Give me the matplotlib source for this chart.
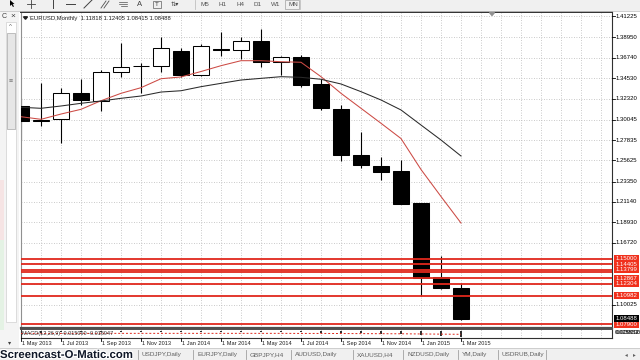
import matplotlib
matplotlib.use("Agg")
import matplotlib.pyplot as plt
import numpy as np
from matplotlib.patches import Rectangle, Polygon
from matplotlib.transforms import blended_transform_factory
import matplotlib.patheffects as pe

plt.rcParams['font.family'] = ['Liberation Sans', 'DejaVu Sans']

# ---------------- data (monthly EURUSD, May 2013 .. Mar 2015) ----------------
months = ["May 2013", "Jun 2013", "Jul 2013", "Aug 2013", "Sep 2013", "Oct 2013",
          "Nov 2013", "Dec 2013", "Jan 2014", "Feb 2014", "Mar 2014", "Apr 2014",
          "May 2014", "Jun 2014", "Jul 2014", "Aug 2014", "Sep 2014", "Oct 2014",
          "Nov 2014", "Dec 2014", "Jan 2015", "Feb 2015", "Mar 2015"]
opens  = [1.3152, 1.2992, 1.3006, 1.3292, 1.3205, 1.3520, 1.3580, 1.3584, 1.3752, 1.3486,
          1.3765, 1.3760, 1.3860, 1.3625, 1.3680, 1.3387, 1.3116, 1.2622, 1.2503, 1.2452,
          1.2099, 1.1306, 1.11818]
highs  = [1.3240, 1.3404, 1.3346, 1.3444, 1.3541, 1.3830, 1.3620, 1.3893, 1.3776, 1.3822,
          1.3956, 1.3901, 1.3982, 1.3693, 1.3703, 1.3441, 1.3163, 1.2874, 1.2597, 1.2568,
          1.2105, 1.1530, 1.12405]
lows   = [1.2784, 1.2940, 1.2750, 1.3163, 1.3093, 1.3463, 1.3290, 1.3516, 1.3462, 1.3476,
          1.3696, 1.3660, 1.3577, 1.3487, 1.3354, 1.3109, 1.2560, 1.2478, 1.2352, 1.2088,
          1.1097, 1.1170, 1.08415]
closes = [1.2988, 1.2996, 1.3296, 1.3218, 1.3516, 1.3575, 1.3586, 1.3775, 1.3486, 1.3801,
          1.3760, 1.3860, 1.3625, 1.3680, 1.3380, 1.3127, 1.2622, 1.2514, 1.2435, 1.2092,
          1.1288, 1.1180, 1.08488]
ma_fast = [1.3036, 1.3008, 1.3065, 1.3116, 1.3209, 1.3289, 1.3350, 1.3447, 1.3466, 1.3525,
           1.3588, 1.3642, 1.3642, 1.3631, 1.3625, 1.3469, 1.3289, 1.3127, 1.2965, 1.2800,
           1.2465, 1.2173, 1.1886]
ma_slow = [1.3138, 1.3127, 1.3152, 1.3181, 1.3206, 1.3235, 1.3260, 1.3303, 1.3317, 1.3361,
           1.3397, 1.3433, 1.3451, 1.3469, 1.3462, 1.3441, 1.3390, 1.3307, 1.3217, 1.3109,
           1.2946, 1.2784, 1.2611]
macd_main = [-0.018, -0.018, -0.017, -0.016, -0.015, -0.014, -0.014, -0.013, -0.013, -0.013,
             -0.013, -0.013, -0.014, -0.015, -0.016, -0.018, -0.022, -0.026, -0.030, -0.036,
             -0.050, -0.058, -0.066]
macd_signal = [-0.028, -0.028, -0.028, -0.028, -0.027, -0.027, -0.027, -0.027, -0.027, -0.027,
               -0.027, -0.027, -0.027, -0.027, -0.028, -0.028, -0.029, -0.030, -0.031, -0.032,
               -0.034, -0.036, -0.038]
level_lines  = [1.15000, 1.14405, 1.13799, 1.13560, 1.12867, 1.12304, 1.10982, 1.07900]
level_labels = ["1.15000", "1.14405", "1.13799", "", "1.12867", "1.12304", "1.10982", "1.07900"]
ytick_vals   = [1.41225, 1.38950, 1.36740, 1.34530, 1.32320, 1.30045, 1.27835, 1.25625,
                1.23350, 1.21140, 1.18930, 1.16720, 1.10025]
extra_grid   = [1.14510, 1.12235]
date_labels  = ["1 May 2013", "1 Jul 2013", "1 Sep 2013", "1 Nov 2013", "1 Jan 2014",
                "1 Mar 2014", "1 May 2014", "1 Jul 2014", "1 Sep 2014", "1 Nov 2014",
                "1 Jan 2015", "1 Mar 2015"]
date_idx = list(range(0, 23, 2))
header = "EURUSD,Monthly  1.11818 1.12405 1.08415 1.08488"
macd_label = "MACD(12,26,9) -0.015090 -0.016947"
last_price = "1.08488"
tabs = ["USDJPY,Daily", "EURJPY,Daily", "GBPJPY,H4", "AUDUSD,Daily", "XAUUSD,H4",
        "NZDUSD,Daily", "YM,Daily", "USDRUB,Daily"]
timeframes = ["M5", "H1", "H4", "D1", "W1", "MN"]

# ---------------- figure ----------------
W, H = 640, 360
fig = plt.figure(figsize=(6.4, 3.6), dpi=100, facecolor="white")

L, R = 20.7, 612.0
TOP, BOT = 12.0, 328.0
ax = fig.add_axes([L / W, 1 - BOT / H, (R - L) / W, (BOT - TOP) / H])
ax2 = fig.add_axes([L / W, 1 - 337.7 / H, (R - L) / W, (337.7 - 329.0) / H])
ov = fig.add_axes([0, 0, 1, 1])
ov.set_xlim(0, W); ov.set_ylim(H, 0); ov.axis("off"); ov.patch.set_visible(False)

x = np.arange(len(opens))
x0 = -0.015
x1 = x0 + (R - L) / 20.0
ax.set_xlim(x0, x1)
ax.set_ylim(1.07506, 1.41687)
ax2.set_xlim(x0, x1)
ax2.set_ylim(-0.077, 0.023)
for a in (ax, ax2):
    a.set_xticks([]); a.set_yticks([])
    a.set_facecolor("white")

gcol = "#b8b8b8"
for k in range(0, 30):
    ax.axvline(k, color=gcol, lw=0.6, ls=(0, (1, 2)), zorder=1)
    ax2.axvline(k, color=gcol, lw=0.6, ls=(0, (1, 2)), zorder=1)
for v in ytick_vals + extra_grid:
    ax.axhline(v, color=gcol, lw=0.6, ls=(0, (1, 2)), zorder=1)

# candles
bw = 0.76
for i in x:
    o, h, l, c = opens[i], highs[i], lows[i], closes[i]
    ax.vlines(i, l, h, color="black", lw=0.8, zorder=2)
    bull = c >= o
    ax.bar(i, abs(c - o), bottom=min(o, c), width=bw,
           facecolor="white" if bull else "black", edgecolor="black", lw=0.75, zorder=3)

ax.plot(x, ma_fast, color="#cc4a44", lw=0.75, zorder=4)
ax.plot(x, ma_slow, color="#2a2a2a", lw=0.75, zorder=4)

for v in level_lines:
    ax.axhline(v, color="#e0281c", lw=1.3, zorder=5)

for s in ax.spines.values():
    s.set_color("#303030"); s.set_linewidth(0.8)
ax.spines["left"].set_color("#909090")
ax.spines["top"].set_linewidth(1.4)
ax.spines["bottom"].set_color("#505050"); ax.spines["bottom"].set_linewidth(1.6)

# MACD pane
ax2.bar(x, macd_main, width=0.12, color="#303030", zorder=2)
ax2.plot(x, macd_signal, color="#e0281c", lw=0.7, ls=(0, (2, 2)), zorder=3)
for s in ax2.spines.values():
    s.set_color("#303030"); s.set_linewidth(0.8)
ax2.spines["top"].set_color("#505050"); ax2.spines["top"].set_linewidth(1.4)
ov.text(22.5, 333.6, macd_label, fontsize=4.0, color="#303030", va="center", ha="left", zorder=5)

fs = 4.3
# y labels on the right
bt = blended_transform_factory(ov.transData, ax.transData)
for v in ytick_vals:
    ov.plot([R, R + 3], [v, v], color="black", lw=0.6, transform=bt)
    ov.text(R + 3.5, v, f"{v:.5f}", transform=bt, fontsize=fs, va="center", ha="left", color="black")

for v, lab in zip(level_lines, level_labels):
    if not lab:
        continue
    ov.add_patch(Rectangle((R + 1.5, v - 0.00375), 25, 0.0075, transform=bt,
                           facecolor="#f0301c", edgecolor="none", zorder=6))
    ov.text(R + 14, v, lab, transform=bt, fontsize=fs, va="center", ha="center",
            color="white", zorder=7)

ov.add_patch(Rectangle((R + 1.5, 1.08488 - 0.00375), 25, 0.0075, transform=bt,
                       facecolor="black", edgecolor="none", zorder=6))
ov.text(R + 14, 1.08488, last_price, transform=bt, fontsize=fs, va="center", ha="center",
        color="white", zorder=7)

# MACD right labels (overlapping)
ov.text(R + 3, 332.0, "0.025552", fontsize=fs, va="center", ha="left", color="black")
ov.text(R + 4, 333.0, "0.000000", fontsize=fs, va="center", ha="left", color="black")

# date labels
for i, lab in zip(date_idx, date_labels):
    px = L + (i - x0) * 20.0
    ov.plot([px, px], [337.7, 341], color="black", lw=0.6)
    ov.text(px + 1.2, 343.3, lab, fontsize=4.1, va="center", ha="left", color="#202020")

# header
ov.text(30, 18.3, header, fontsize=4.25, va="center", ha="left", color="#202020")
ov.add_patch(Polygon([[23.5, 16.8], [27.5, 16.8], [25.5, 19.3]], closed=True, color="#202020"))
ov.add_patch(Polygon([[489.5, 12.5], [494.5, 12.5], [492, 15.5]], closed=True, color="#909090"))

# toolbar
ov.add_patch(Rectangle((0, 0), W, 10.5, facecolor="#f0f0f0", edgecolor="none", zorder=0))
ov.plot([0, W], [10.5, 10.5], color="#c8c8c8", lw=0.6)
ov.add_patch(Polygon([[10, 0], [10, 6], [11.5, 4.6], [13, 7], [14, 6.4], [12.6, 4.2], [14.5, 4]],
                     closed=True, facecolor="black"))
ov.plot([31, 31], [0, 8], color="#404040", lw=0.6); ov.plot([27, 35], [4, 4], color="#404040", lw=0.6)
ov.plot([53, 53], [0, 8], color="#404040", lw=0.7)
ov.plot([66, 75], [4, 4], color="#404040", lw=0.7)
ov.plot([84, 92], [8, 0], color="#404040", lw=0.7)
ov.plot([101, 106], [8, 1], color="#505050", lw=0.6); ov.plot([104, 109], [8, 1], color="#505050", lw=0.6)
ov.plot([119, 127], [2, 2], color="#505050", lw=0.5); ov.plot([119, 127], [4, 4], color="#505050", lw=0.5)
ov.plot([121, 127], [6, 6], color="#505050", lw=0.5)
ov.text(140, 4.5, "A", fontsize=5.5, ha="center", va="center", color="#404040")
ov.add_patch(Rectangle((153, 1), 8, 7, facecolor="none", edgecolor="#606060", lw=0.5))
ov.text(157, 4.5, "T", fontsize=4.5, ha="center", va="center", color="#404040")
ov.text(175, 4, "⇅▾", fontsize=4.5, ha="center", va="center", color="#404040")
ov.plot([195, 195], [0, 9], color="#c0c0c0", lw=0.6)
for j, tf in enumerate(timeframes):
    ov.text(205 + j * 17.6, 4.2, tf, fontsize=4.5, ha="center", va="center", color="#505050")
ov.add_patch(Rectangle((285, 0), 14, 9, facecolor="none", edgecolor="#a0a0a0", lw=0.5))
ov.plot([300, 300], [0, 9], color="#c0c0c0", lw=0.6)

# left panel
ov.add_patch(Rectangle((0, 10.5), L - 1.5, 337, facecolor="#f4f4f4", edgecolor="none", zorder=0))
ov.text(4, 16, "C", fontsize=5, ha="center", va="center", color="#404040")
ov.text(12.5, 16, "×", fontsize=6, ha="center", va="center", color="#404040")
ov.add_patch(Rectangle((5.5, 22), 10, 300, facecolor="white", edgecolor="#d0d0d0", lw=0.5))
ov.text(10.5, 27, "^", fontsize=4.5, ha="center", va="center", color="#606060")
ov.add_patch(Rectangle((6.5, 33), 8, 96, facecolor="#e6e6e6", edgecolor="#a8a8a8", lw=0.5))
ov.text(10.5, 82, "≡", fontsize=5, ha="center", va="center", color="#707070")
ov.add_patch(Rectangle((0, 180), 4, 60, facecolor="#f6e4e4", edgecolor="none"))
ov.add_patch(Rectangle((0, 240), 4, 90, facecolor="#e4f2e4", edgecolor="none"))
ov.text(10, 342.5, "▾", fontsize=4.5, ha="center", va="center", color="#404040")

# bottom tab bar
ov.add_patch(Rectangle((0, 347.5), W, 12.5, facecolor="#f0f0f0", edgecolor="none", zorder=0))
ov.plot([0, W], [347.5, 347.5], color="#c8c8c8", lw=0.6)
tab_x = [142, 197, 250, 295, 357, 407, 462, 502]
for tx, t in zip(tab_x, tabs):
    ov.text(tx, 354.5, t, fontsize=4.6, ha="left", va="center", color="#606060")
    ov.plot([tx - 4.5, tx - 4.5], [350, 359], color="#a0a0a0", lw=0.6)
ov.plot([546, 546], [350, 359], color="#a0a0a0", lw=0.6)
ov.text(626, 354.5, "◂", fontsize=4, ha="center", va="center", color="#606060")
ov.text(634, 354.5, "▸", fontsize=4, ha="center", va="center", color="#606060")
ov.text(0, 355, "Screencast-O-Matic.com", fontsize=8.2, fontweight="bold", ha="left",
        va="center", color="#101828",
        path_effects=[pe.withStroke(linewidth=1.6, foreground="white")])

fig.savefig("out.png", dpi=100, facecolor="white")
